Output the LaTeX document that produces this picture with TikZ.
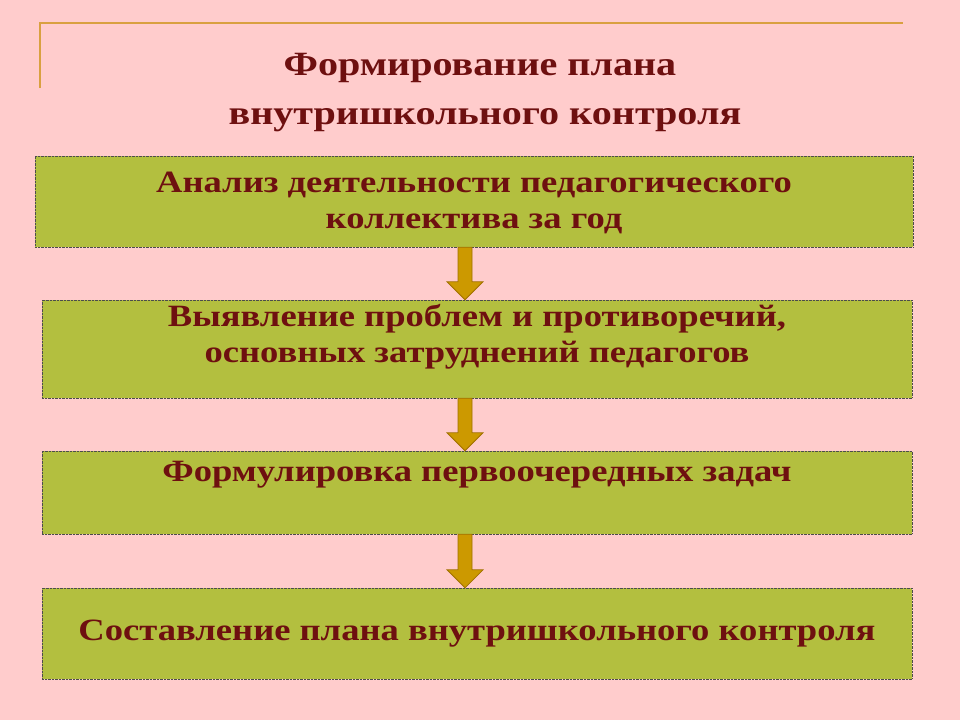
\documentclass[tikz,border=0pt]{standalone}
\usepackage{fontspec}
\usepackage{graphicx}
\setmainfont{Liberation Serif}
\newcommand{\sxw}[1]{\scalebox{1.18}[1]{#1}}
\begin{document}
\begin{tikzpicture}[x=1pt,y=-1pt,
  box/.style={draw=gray!60!black,densely dotted,fill=boxg,inner sep=0},
  txt/.style={font=\bfseries\fontsize{31}{36}\selectfont,text=tred,align=center},
  ttl/.style={font=\bfseries\fontsize{34}{40}\selectfont,text=tred},
  arr/.style={draw=arrd,fill=arrg,line width=0.8pt}]
\definecolor{bg}{HTML}{FFCCCC}
\definecolor{boxg}{HTML}{B3BF3F}
\definecolor{tred}{HTML}{6E1010}
\definecolor{arrg}{HTML}{CC9900}
\definecolor{arrd}{HTML}{A07000}
\definecolor{lineo}{HTML}{D9A040}
\fill[bg] (0,0) rectangle (960,720);
\useasboundingbox (0,0) rectangle (960,720);
\draw[lineo,line width=1.5pt] (40,88) -- (40,23) -- (903,23);
\node[ttl] (t1) at (480,68) {\sxw{Формирование плана}};
\node[ttl] (t2) at (485,120) {\sxw{внутришкольного контроля}};
\node[box,minimum width=878,minimum height=91] (b1) at (474,201.5) {};
\node[box,minimum width=870,minimum height=98] (b2) at (477,349) {};
\node[box,minimum width=870,minimum height=83] (b3) at (477,492.5) {};
\node[box,minimum width=870,minimum height=91] (b4) at (477,633.5) {};
\node[txt] (l1) at (474,203) {\sxw{Анализ деятельности педагогического}\\\sxw{коллектива за год}};
\node[txt] (l2) at (477,337) {\sxw{Выявление проблем и противоречий,}\\\sxw{основных затруднений педагогов}};
\node[txt] (l3) at (477,475) {\sxw{Формулировка первоочередных задач}};
\node[txt] (l4) at (477,634) {\sxw{Составление плана внутришкольного контроля}};
\foreach \a/\b in {b1/b2,b2/b3,b3/b4}{
  \draw[arr] ([xshift=-7pt]\a.south -| 465,0) -- ([xshift=7pt]\a.south -| 465,0)
    -- ([xshift=7pt,yshift=18pt]\b.north -| 465,0) -- ([xshift=18pt,yshift=18pt]\b.north -| 465,0)
    -- (\b.north -| 465,0) -- ([xshift=-18pt,yshift=18pt]\b.north -| 465,0)
    -- ([xshift=-7pt,yshift=18pt]\b.north -| 465,0) -- cycle;
}
\end{tikzpicture}
\end{document}
